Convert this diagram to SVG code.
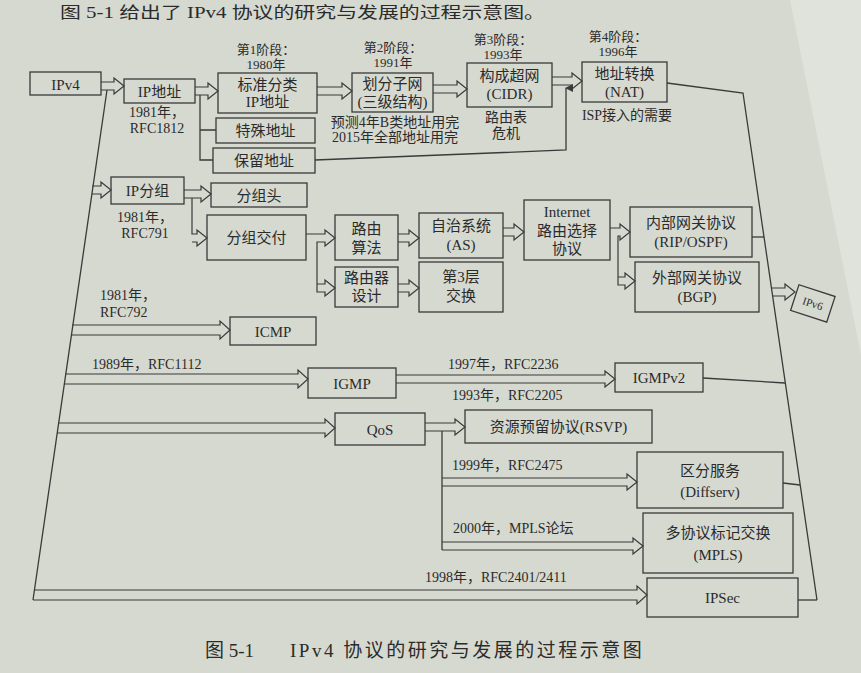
<svg xmlns="http://www.w3.org/2000/svg" width="861" height="673" viewBox="0 0 861 673">
<style>
.bg{fill:#d6d9d0}
.box{fill:none;stroke:#3a3a3a;stroke-width:1.3}
.ln{fill:none;stroke:#3a3a3a;stroke-width:1.3}
.ar{fill:none;stroke:#3a3a3a;stroke-width:1.2;stroke-linejoin:miter}
text{font-family:'Liberation Serif','Noto Sans CJK SC',serif;fill:#2b2b2b}
.t{font-size:15px;text-anchor:middle}
.l{font-size:14px}
.lc{font-size:14px;text-anchor:middle}
.s{font-size:13px;text-anchor:middle}
</style>
<defs>
<marker id="up" markerWidth="8" markerHeight="8" refX="4" refY="1" orient="auto" markerUnits="userSpaceOnUse" viewBox="0 0 8 8">
<path d="M0,8 L4,0 L8,8 Z" fill="#3a3a3a"/>
</marker>
</defs>
<rect class="bg" x="0" y="0" width="861" height="673"/>
<polygon points="790,0 861,0 861,355" fill="#e0e2dc"/>

<text x="60" y="18" style="font-size:16px" textLength="485" lengthAdjust="spacingAndGlyphs">图 5-1 给出了 IPv4 协议的研究与发展的过程示意图。</text>

<g id="connectors">
<path class="ar" d="M101,82 H114 V78 L124,86 L114,94 V90 H101"/>
<path class="ar" d="M195,87 H208 V83 L218,91 L208,99 V95 H195"/>
<path class="ar" d="M317,87 H342 V83 L352,91 L342,99 V95 H317"/>
<path class="ar" d="M433,85 H457 V81 L467,89 L457,97 V93 H433"/>
<path class="ar" d="M552,77 H572 V73 L582,81 L572,89 V85 H552"/>
<path class="ln" d="M200,95 V160 H213 M200,130 H216"/>
<path class="ln" d="M315,160 L566,150 L566,88" marker-end="url(#up)"/>
<path class="ln" d="M667,83 L743,93 L817,600"/>
<path class="ln" d="M107,90 L33,600"/>
<path class="ar" d="M92,186 H101 V182 L111,190 L101,198 V194 H92"/>
<path class="ar" d="M184,190 H201 V186 L211,194 L201,202 V198 H184"/>
<path class="ar" d="M192,198 V234 H197 V230 L207,238 L197,246 V242 H192"/>
<path class="ar" d="M306,234 H325 V230 L335,238 L325,246 V242 H317 V292 H325 V296 L335,288 L325,280 V284 H317"/>
<path class="ar" d="M398,234 H409 V230 L419,238 L409,246 V242 H398"/>
<path class="ar" d="M398,284 H409 V280 L419,288 L409,296 V292 H398"/>
<path class="ar" d="M503,228 H514 V224 L524,232 L514,240 V236 H503"/>
<path class="ar" d="M610,228 H620 V224 L630,232 L620,240 V236 H618 V285 H625 V289 L635,281 L625,273 V277 H618"/>
<path class="ln" d="M752,237 H764"/>
<path class="ar" d="M772,288 H785 V284 L795,292 L785,300 V296 H772"/>
<path class="ar" d="M72,325 H220 V321 L230,330 L220,339 V335 H71"/>
<path class="ar" d="M65,374 H298 V370 L308,379 L298,388 V384 H64"/>
<path class="ar" d="M396,375 H605 V371 L615,379 L605,387 V383 H396"/>
<path class="ln" d="M703,378 L785,383"/>
<path class="ar" d="M58,423 H325 V419 L335,428 L325,437 V433 H57"/>
<path class="ar" d="M425,423 H455 V419 L465,427 L455,435 V431 H425"/>
<path class="ln" d="M442,431 V550"/>
<path class="ar" d="M442,478 H627 V474 L637,482 L627,490 V486 H442"/>
<path class="ar" d="M442,542 H633 V538 L643,546 L633,554 V550 H442"/>
<path class="ln" d="M783,483 L800,485"/>
<path class="ar" d="M34,590 H637 V586 L647,595 L637,604 V600 H33"/>
<path class="ln" d="M798,600 H817"/>
</g>

<g id="n-ipv4"><rect class="box" x="30" y="72" width="71" height="23"/><text class="t" x="65.5" y="89.5">IPv4</text></g>
<g id="n-ipaddr"><rect class="box" x="124" y="79" width="71" height="24"/><text class="t" x="159.5" y="96.5">IP地址</text>
<text class="lc" x="157" y="117">1981年，</text><text class="lc" x="157" y="133">RFC1812</text></g>
<g id="n-std"><text class="s" x="266" y="54">第1阶段：</text><text class="s" x="266" y="69">1980年</text>
<rect class="box" x="218" y="73" width="99" height="40"/><text class="t" x="267.5" y="90">标准分类</text><text class="t" x="267.5" y="107">IP地址</text></g>
<g id="n-special"><rect class="box" x="216" y="118" width="99" height="25"/><text class="t" x="265.5" y="136">特殊地址</text></g>
<g id="n-reserved"><rect class="box" x="213" y="148" width="102" height="25"/><text class="t" x="264" y="166">保留地址</text></g>
<g id="n-subnet"><text class="s" x="393" y="52">第2阶段：</text><text class="s" x="393" y="67">1991年</text>
<rect class="box" x="352" y="73" width="81" height="39"/><text class="t" x="392.5" y="89">划分子网</text><text class="t" x="392.5" y="107">(三级结构)</text>
<text class="lc" x="395" y="127">预测4年B类地址用完</text><text class="lc" x="395" y="142">2015年全部地址用完</text></g>
<g id="n-cidr"><text class="s" x="503" y="44">第3阶段：</text><text class="s" x="503" y="59">1993年</text>
<rect class="box" x="467" y="63" width="85" height="44"/><text class="t" x="509.5" y="81">构成超网</text><text class="t" x="509.5" y="99">(CIDR)</text>
<text class="lc" x="506" y="122">路由表</text><text class="lc" x="506" y="138">危机</text></g>
<g id="n-nat"><text class="s" x="618" y="41">第4阶段：</text><text class="s" x="618" y="56">1996年</text>
<rect class="box" x="582" y="62" width="85" height="40"/><text class="t" x="624.5" y="79">地址转换</text><text class="t" x="624.5" y="97">(NAT)</text>
<text class="lc" x="627" y="120">ISP接入的需要</text></g>

<g id="n-ippacket"><rect class="box" x="111" y="177" width="73" height="27"/><text class="t" x="147.5" y="196">IP分组</text>
<text class="lc" x="145" y="222">1981年，</text><text class="lc" x="145" y="238">RFC791</text></g>
<g id="n-header"><rect class="box" x="211" y="183" width="96" height="24"/><text class="t" x="259" y="200.5">分组头</text></g>
<g id="n-delivery"><rect class="box" x="207" y="215" width="99" height="45"/><text class="t" x="256.5" y="243">分组交付</text></g>
<g id="n-routealg"><rect class="box" x="335" y="215" width="63" height="45"/><text class="t" x="366.5" y="234">路由</text><text class="t" x="366.5" y="253">算法</text></g>
<g id="n-router"><rect class="box" x="335" y="267" width="63" height="40"/><text class="t" x="366.5" y="283">路由器</text><text class="t" x="366.5" y="301">设计</text></g>
<g id="n-as"><rect class="box" x="419" y="213" width="84" height="45"/><text class="t" x="461" y="231">自治系统</text><text class="t" x="461" y="250">(AS)</text></g>
<g id="n-l3"><rect class="box" x="419" y="262" width="84" height="50"/><text class="t" x="461" y="282">第3层</text><text class="t" x="461" y="301">交换</text></g>
<g id="n-irp"><rect class="box" x="524" y="200" width="86" height="60"/><text class="t" x="567" y="217">Internet</text><text class="t" x="567" y="236">路由选择</text><text class="t" x="567" y="254">协议</text></g>
<g id="n-igp"><rect class="box" x="630" y="207" width="122" height="50"/><text class="t" x="691" y="228">内部网关协议</text><text class="t" x="691" y="247">(RIP/OSPF)</text></g>
<g id="n-bgp"><rect class="box" x="635" y="262" width="124" height="50"/><text class="t" x="697" y="283">外部网关协议</text><text class="t" x="697" y="302">(BGP)</text></g>
<g id="n-ipv6" transform="rotate(18 813 303)"><rect class="box" x="794" y="290" width="38" height="27"/><text x="813" y="307.5" style="font-size:11px;text-anchor:middle">IPv6</text></g>

<g id="n-icmp"><text class="l" x="100" y="300">1981年，</text><text class="l" x="100" y="317">RFC792</text>
<rect class="box" x="230" y="317" width="86" height="28"/><text class="t" x="273" y="336.5">ICMP</text></g>
<g id="n-igmp"><text class="l" x="92" y="369">1989年，RFC1112</text>
<rect class="box" x="308" y="368" width="88" height="30"/><text class="t" x="352" y="388.5">IGMP</text>
<text class="l" x="448" y="369">1997年，RFC2236</text><text class="l" x="452" y="400">1993年，RFC2205</text></g>
<g id="n-igmpv2"><rect class="box" x="615" y="363" width="88" height="29"/><text class="t" x="659" y="383">IGMPv2</text></g>
<g id="n-qos"><rect class="box" x="335" y="413" width="90" height="32"/><text class="t" x="380" y="434.5">QoS</text></g>
<g id="n-rsvp"><rect class="box" x="465" y="410" width="187" height="33"/><text class="t" x="558.5" y="432">资源预留协议(RSVP)</text></g>
<g id="n-diffserv"><text class="l" x="452" y="470">1999年，RFC2475</text>
<rect class="box" x="637" y="452" width="146" height="56"/><text class="t" x="710" y="476">区分服务</text><text class="t" x="710" y="497">(Diffserv)</text></g>
<g id="n-mpls"><text class="l" x="453" y="533">2000年，MPLS论坛</text>
<rect class="box" x="643" y="513" width="150" height="60"/><text class="t" x="718" y="538">多协议标记交换</text><text class="t" x="718" y="560">(MPLS)</text></g>
<g id="n-ipsec"><text class="l" x="425" y="582">1998年，RFC2401/2411</text>
<rect class="box" x="647" y="578" width="151" height="39"/><text class="t" x="722.5" y="603">IPSec</text></g>

<text x="205" y="657" style="font-size:19px">图 5-1</text>
<text x="290" y="657" style="font-size:19px;letter-spacing:2.5px">IPv4 协议的研究与发展的过程示意图</text>
</svg>
